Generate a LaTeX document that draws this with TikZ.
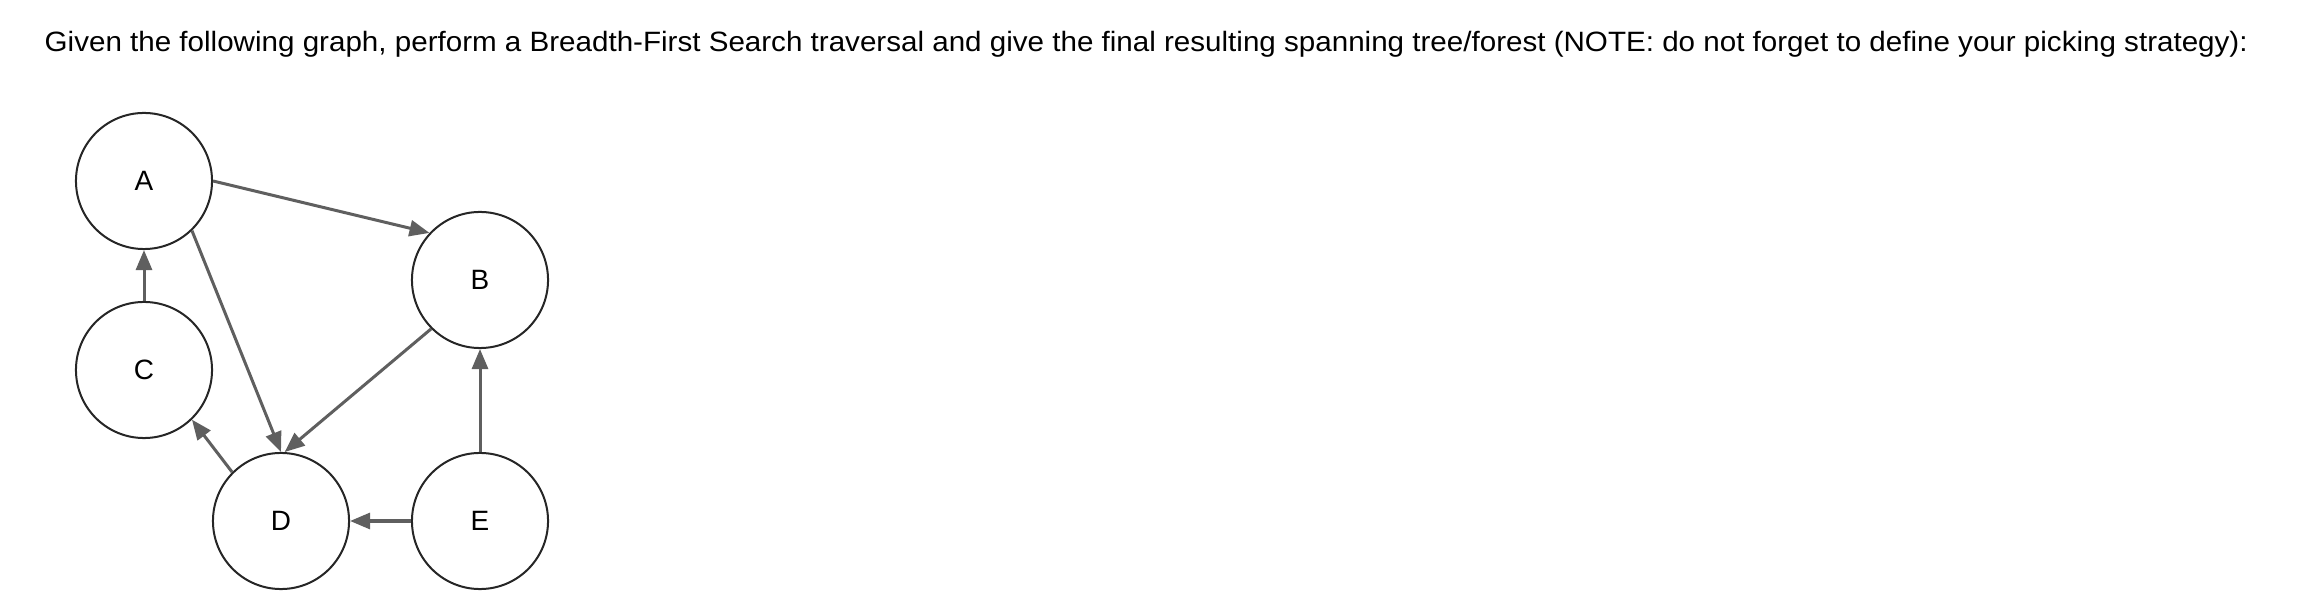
\documentclass[tikz,border=0pt]{standalone}
\usepackage{fontspec}
\setmainfont{Liberation Sans}
\newfontfamily\questionfont[FakeStretch=1.058]{Liberation Sans}
\usetikzlibrary{arrows.meta}
\definecolor{edgegray}{HTML}{5F5F5F}
\tikzset{
  vertex/.style={draw=black!85, circle, line width=0.02cm, minimum size=1.36cm,
    inner sep=0pt, font=\fontsize{7.95}{9.5}\selectfont},
  edge/.style={->, draw=edgegray, line width=0.03cm}
}

\begin{document}
\begin{tikzpicture}[x=0.01cm, y=0.01cm, >={Triangle[length=0.2cm, width=0.16cm]}]

  \useasboundingbox (0,0) rectangle (2315,615);

  % Question
  \node[anchor=base west, inner sep=0pt, font=\questionfont\fontsize{7.95}{9.5}\selectfont] (question) at (44,563)
    {Given the following graph, perform a Breadth-First Search traversal and give the final resulting spanning tree/forest (NOTE: do not forget to define your picking strategy):};

  % Vertices
  \node[vertex] (A) at (144,434) {A};
  \node[vertex] (B) at (480,335) {B};
  \node[vertex] (C) at (144,245) {C};
  \node[vertex] (D) at (281,94) {D};
  \node[vertex] (E) at (480,94) {E};

  % Edges
  \draw[edge] (A.east) -- (B.137);
  \draw[edge] (A.-46) -- (D.north);
  \draw[edge] (B.225) -- (D.87);
  \draw[edge] (C.north) -- (A.south);
  \draw[edge] (D.135) -- (C.-46);
  \draw[edge] (E.north) -- (B.south);
  \draw[edge] (E.west) -- (D.east);

\end{tikzpicture}
\end{document}
